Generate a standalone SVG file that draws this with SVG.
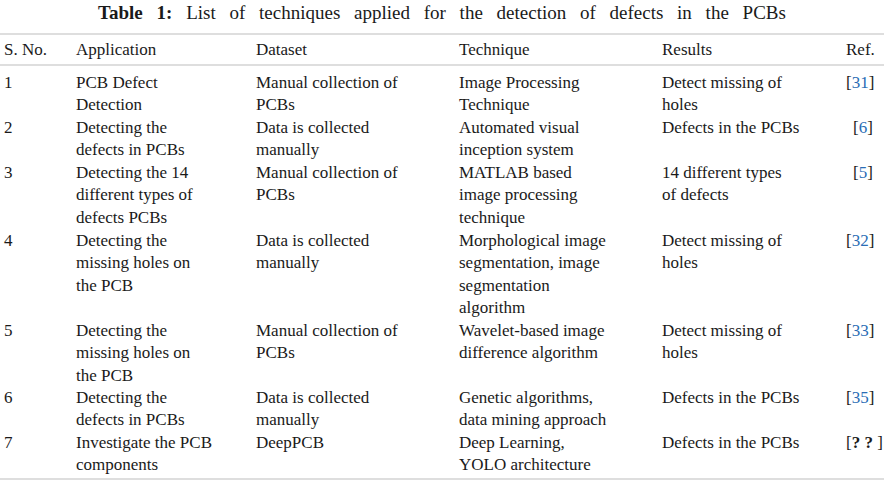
<svg xmlns="http://www.w3.org/2000/svg" width="884" height="483" viewBox="0 0 884 483">
<style>
text{font-family:"Liberation Serif",serif;font-size:17px;fill:#1a1a1a}
.r{fill:#2a6db5}
line{stroke:#bdbdbd;stroke-width:1.2}
</style>
<rect width="884" height="483" fill="#fff"/>
<text x="442" y="19" text-anchor="middle" style="font-size:19px;word-spacing:9px"><tspan font-weight="bold">Table 1:</tspan> List of techniques applied for the detection of defects in the PCBs</text>
<g id="rules"><line x1="0" y1="34" x2="884" y2="34"/><line x1="0" y1="65" x2="884" y2="65"/><line x1="0" y1="479" x2="884" y2="479"/></g>
<g id="header"><text x="4" y="55">S. No.</text><text x="76" y="55">Application</text><text x="256" y="55">Dataset</text><text x="459" y="55">Technique</text><text x="662" y="55">Results</text><text x="846" y="55">Ref.</text></g>
<g id="row1"><text x="4" y="88">1</text><text x="76" y="88">PCB Defect</text><text x="76" y="110">Detection</text><text x="256" y="88">Manual collection of</text><text x="256" y="110">PCBs</text><text x="459" y="88">Image Processing</text><text x="459" y="110">Technique</text><text x="662" y="88">Detect missing of</text><text x="662" y="110">holes</text><text x="846" y="88">[<tspan class="r">31</tspan>]</text></g>
<g id="row2"><text x="4" y="133">2</text><text x="76" y="133">Detecting the</text><text x="76" y="155">defects in PCBs</text><text x="256" y="133">Data is collected</text><text x="256" y="155">manually</text><text x="459" y="133">Automated visual</text><text x="459" y="155">inception system</text><text x="662" y="133">Defects in the PCBs</text><text x="853" y="133">[<tspan class="r">6</tspan>]</text></g>
<g id="row3"><text x="4" y="178">3</text><text x="76" y="178">Detecting the 14</text><text x="76" y="200">different types of</text><text x="76" y="223">defects PCBs</text><text x="256" y="178">Manual collection of</text><text x="256" y="200">PCBs</text><text x="459" y="178">MATLAB based</text><text x="459" y="200">image processing</text><text x="459" y="223">technique</text><text x="662" y="178">14 different types</text><text x="662" y="200">of defects</text><text x="853" y="178">[<tspan class="r">5</tspan>]</text></g>
<g id="row4"><text x="4" y="246">4</text><text x="76" y="246">Detecting the</text><text x="76" y="268">missing holes on</text><text x="76" y="291">the PCB</text><text x="256" y="246">Data is collected</text><text x="256" y="268">manually</text><text x="459" y="246">Morphological image</text><text x="459" y="268">segmentation, image</text><text x="459" y="291">segmentation</text><text x="459" y="313">algorithm</text><text x="662" y="246">Detect missing of</text><text x="662" y="268">holes</text><text x="846" y="246">[<tspan class="r">32</tspan>]</text></g>
<g id="row5"><text x="4" y="336">5</text><text x="76" y="336">Detecting the</text><text x="76" y="358">missing holes on</text><text x="76" y="381">the PCB</text><text x="256" y="336">Manual collection of</text><text x="256" y="358">PCBs</text><text x="459" y="336">Wavelet-based image</text><text x="459" y="358">difference algorithm</text><text x="662" y="336">Detect missing of</text><text x="662" y="358">holes</text><text x="846" y="336">[<tspan class="r">33</tspan>]</text></g>
<g id="row6"><text x="4" y="403">6</text><text x="76" y="403">Detecting the</text><text x="76" y="425">defects in PCBs</text><text x="256" y="403">Data is collected</text><text x="256" y="425">manually</text><text x="459" y="403">Genetic algorithms,</text><text x="459" y="425">data mining approach</text><text x="662" y="403">Defects in the PCBs</text><text x="846" y="403">[<tspan class="r">35</tspan>]</text></g>
<g id="row7"><text x="4" y="448">7</text><text x="76" y="448">Investigate the PCB</text><text x="76" y="470">components</text><text x="256" y="448">DeepPCB</text><text x="459" y="448">Deep Learning,</text><text x="459" y="470">YOLO architecture</text><text x="662" y="448">Defects in the PCBs</text><text x="846" y="448">[<tspan font-weight="bold">? ?</tspan> ]</text></g>
</svg>
